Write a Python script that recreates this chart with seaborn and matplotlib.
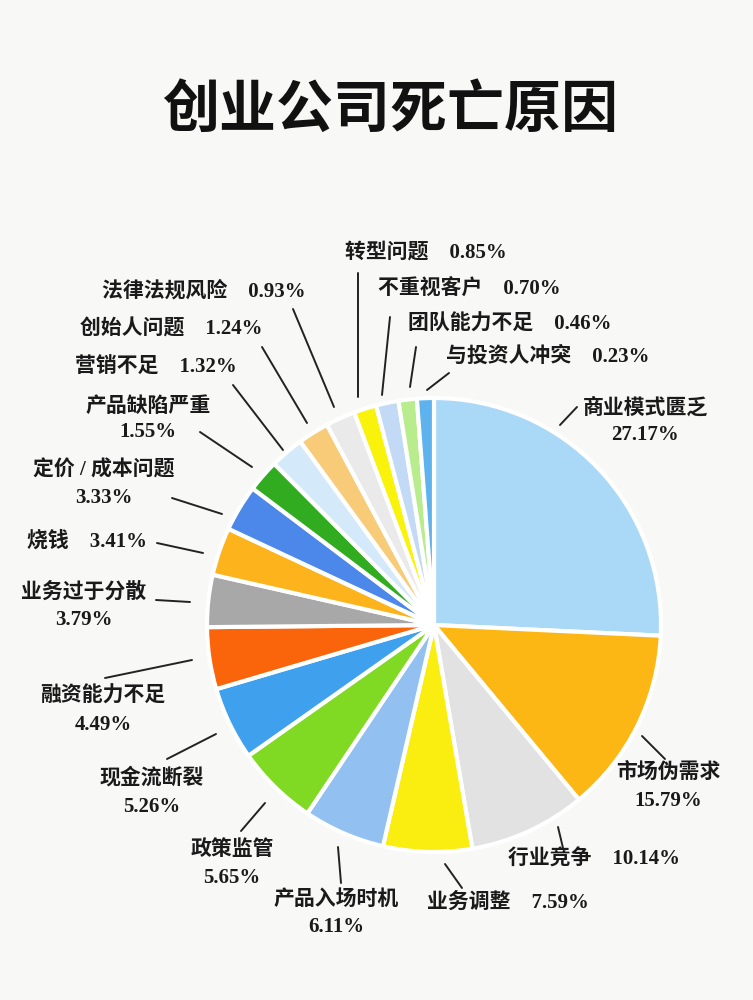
import matplotlib
matplotlib.use("Agg")
import matplotlib.pyplot as plt
import seaborn as sns

# --- data -------------------------------------------------------------
reasons = ["商业模式匮乏", "市场伪需求", "行业竞争", "业务调整", "产品入场时机",
           "政策监管", "现金流断裂", "融资能力不足", "业务过于分散", "烧钱",
           "定价 / 成本问题", "产品缺陷严重", "营销不足", "创始人问题",
           "法律法规风险", "转型问题", "不重视客户", "团队能力不足", "与投资人冲突"]

# printed percentages
pct = [27.17, 15.79, 10.14, 7.59, 6.11, 5.65, 5.26, 4.49, 3.79, 3.41,
       3.33, 1.55, 1.32, 1.24, 0.93, 0.85, 0.70, 0.46, 0.23]

# slice widths as drawn in the original picture (small slices are enlarged there)
drawn_share = [25.7, 13.2, 8.3, 6.3, 5.8, 5.8, 5.2, 4.4, 3.7, 3.4,
               3.3, 2.3, 2.4, 2.2, 2.1, 1.6, 1.6, 1.3, 1.2]

slice_colors = ["#a9d9f6", "#fdb715", "#e2e2e2", "#f9ee10", "#92c0f1",
                "#80d923", "#3fa1ee", "#fa640a", "#a8a8a8", "#fdb41c",
                "#4c88ea", "#31ac20", "#d4e9f9", "#f8cb78", "#eaeaea",
                "#f9f20a", "#c3daf6", "#b9ec8c", "#5eb3ef"]

# --- layout (pixel coords, y measured from top) --------------------------
# ('s', x_left, y) single line  /  ('d', x_center, y_name, y_pct) two lines
label_pos = [("d", 645, 408, 435), ("d", 668, 773, 801), ("s", 508, 860),
             ("s", 427, 903), ("d", 336, 900, 927), ("d", 232, 850, 878),
             ("d", 152, 778, 807), ("d", 103, 697, 725), ("d", 84, 593, 620),
             ("s", 27, 541), ("d", 104, 470, 498), ("d", 148, 407, 432),
             ("s", 75, 368), ("s", 80, 330), ("s", 102, 291),
             ("s", 345, 253), ("s", 378, 290), ("s", 408, 325), ("s", 446, 357)]

leader = [(560, 425, 577, 407), (642, 736, 665, 759), (558, 827, 563, 848),
          (445, 864, 462, 888), (338, 847, 341, 883), (265, 803, 241, 831),
          (216, 734, 167, 759), (192, 660, 105, 678), (190, 602, 156, 600),
          (203, 553, 157, 543), (222, 514, 172, 498), (252, 467, 200, 432),
          (283, 450, 233, 385), (307, 423, 262, 347), (334, 407, 293, 309),
          (358, 397, 358, 273), (382, 395, 390, 317), (410, 387, 416, 347),
          (427, 390, 449, 373)]

W, H = 753, 1000


def Y(y):
    return H - y


sns.set_theme(style="white")
plt.rcParams["font.family"] = ["Liberation Serif", "Noto Sans CJK SC"]

fig = plt.figure(figsize=(W / 100, H / 100), dpi=100, facecolor="#f8f8f6")
ax = fig.add_axes([0, 0, 1, 1])
ax.set_facecolor("#f8f8f6")

ax.pie(drawn_share, colors=sns.color_palette(slice_colors), startangle=90,
       counterclock=False, center=(434, Y(625)), radius=227,
       wedgeprops=dict(edgecolor="white", linewidth=3), frame=False)
ax.set_aspect("auto")
ax.set_xlim(0, W)
ax.set_ylim(0, H)
ax.axis("off")

# title
ax.text(390, Y(110), "创业公司死亡原因", fontsize=41, fontweight="heavy",
        ha="center", va="center", family=["Noto Sans CJK SC"], color="#111111")

# labels + leader lines
fs = 15
for name, v, pos, ln in zip(reasons, pct, label_pos, leader):
    val = f"{v:.2f}%"
    if pos[0] == "s":
        ax.text(pos[1], Y(pos[2]), f"{name}    {val}", fontsize=fs,
                fontweight="bold", ha="left", va="center", color="#1a1a1a")
    else:
        ax.text(pos[1], Y(pos[2]), name, fontsize=fs, fontweight="bold",
                ha="center", va="center", color="#1a1a1a")
        ax.text(pos[1], Y(pos[3]), val, fontsize=fs, fontweight="bold",
                ha="center", va="center", color="#1a1a1a")
    ax.plot([ln[0], ln[2]], [Y(ln[1]), Y(ln[3])], color="#222222", lw=1.4)

fig.savefig("out.png", dpi=100, facecolor=fig.get_facecolor())
